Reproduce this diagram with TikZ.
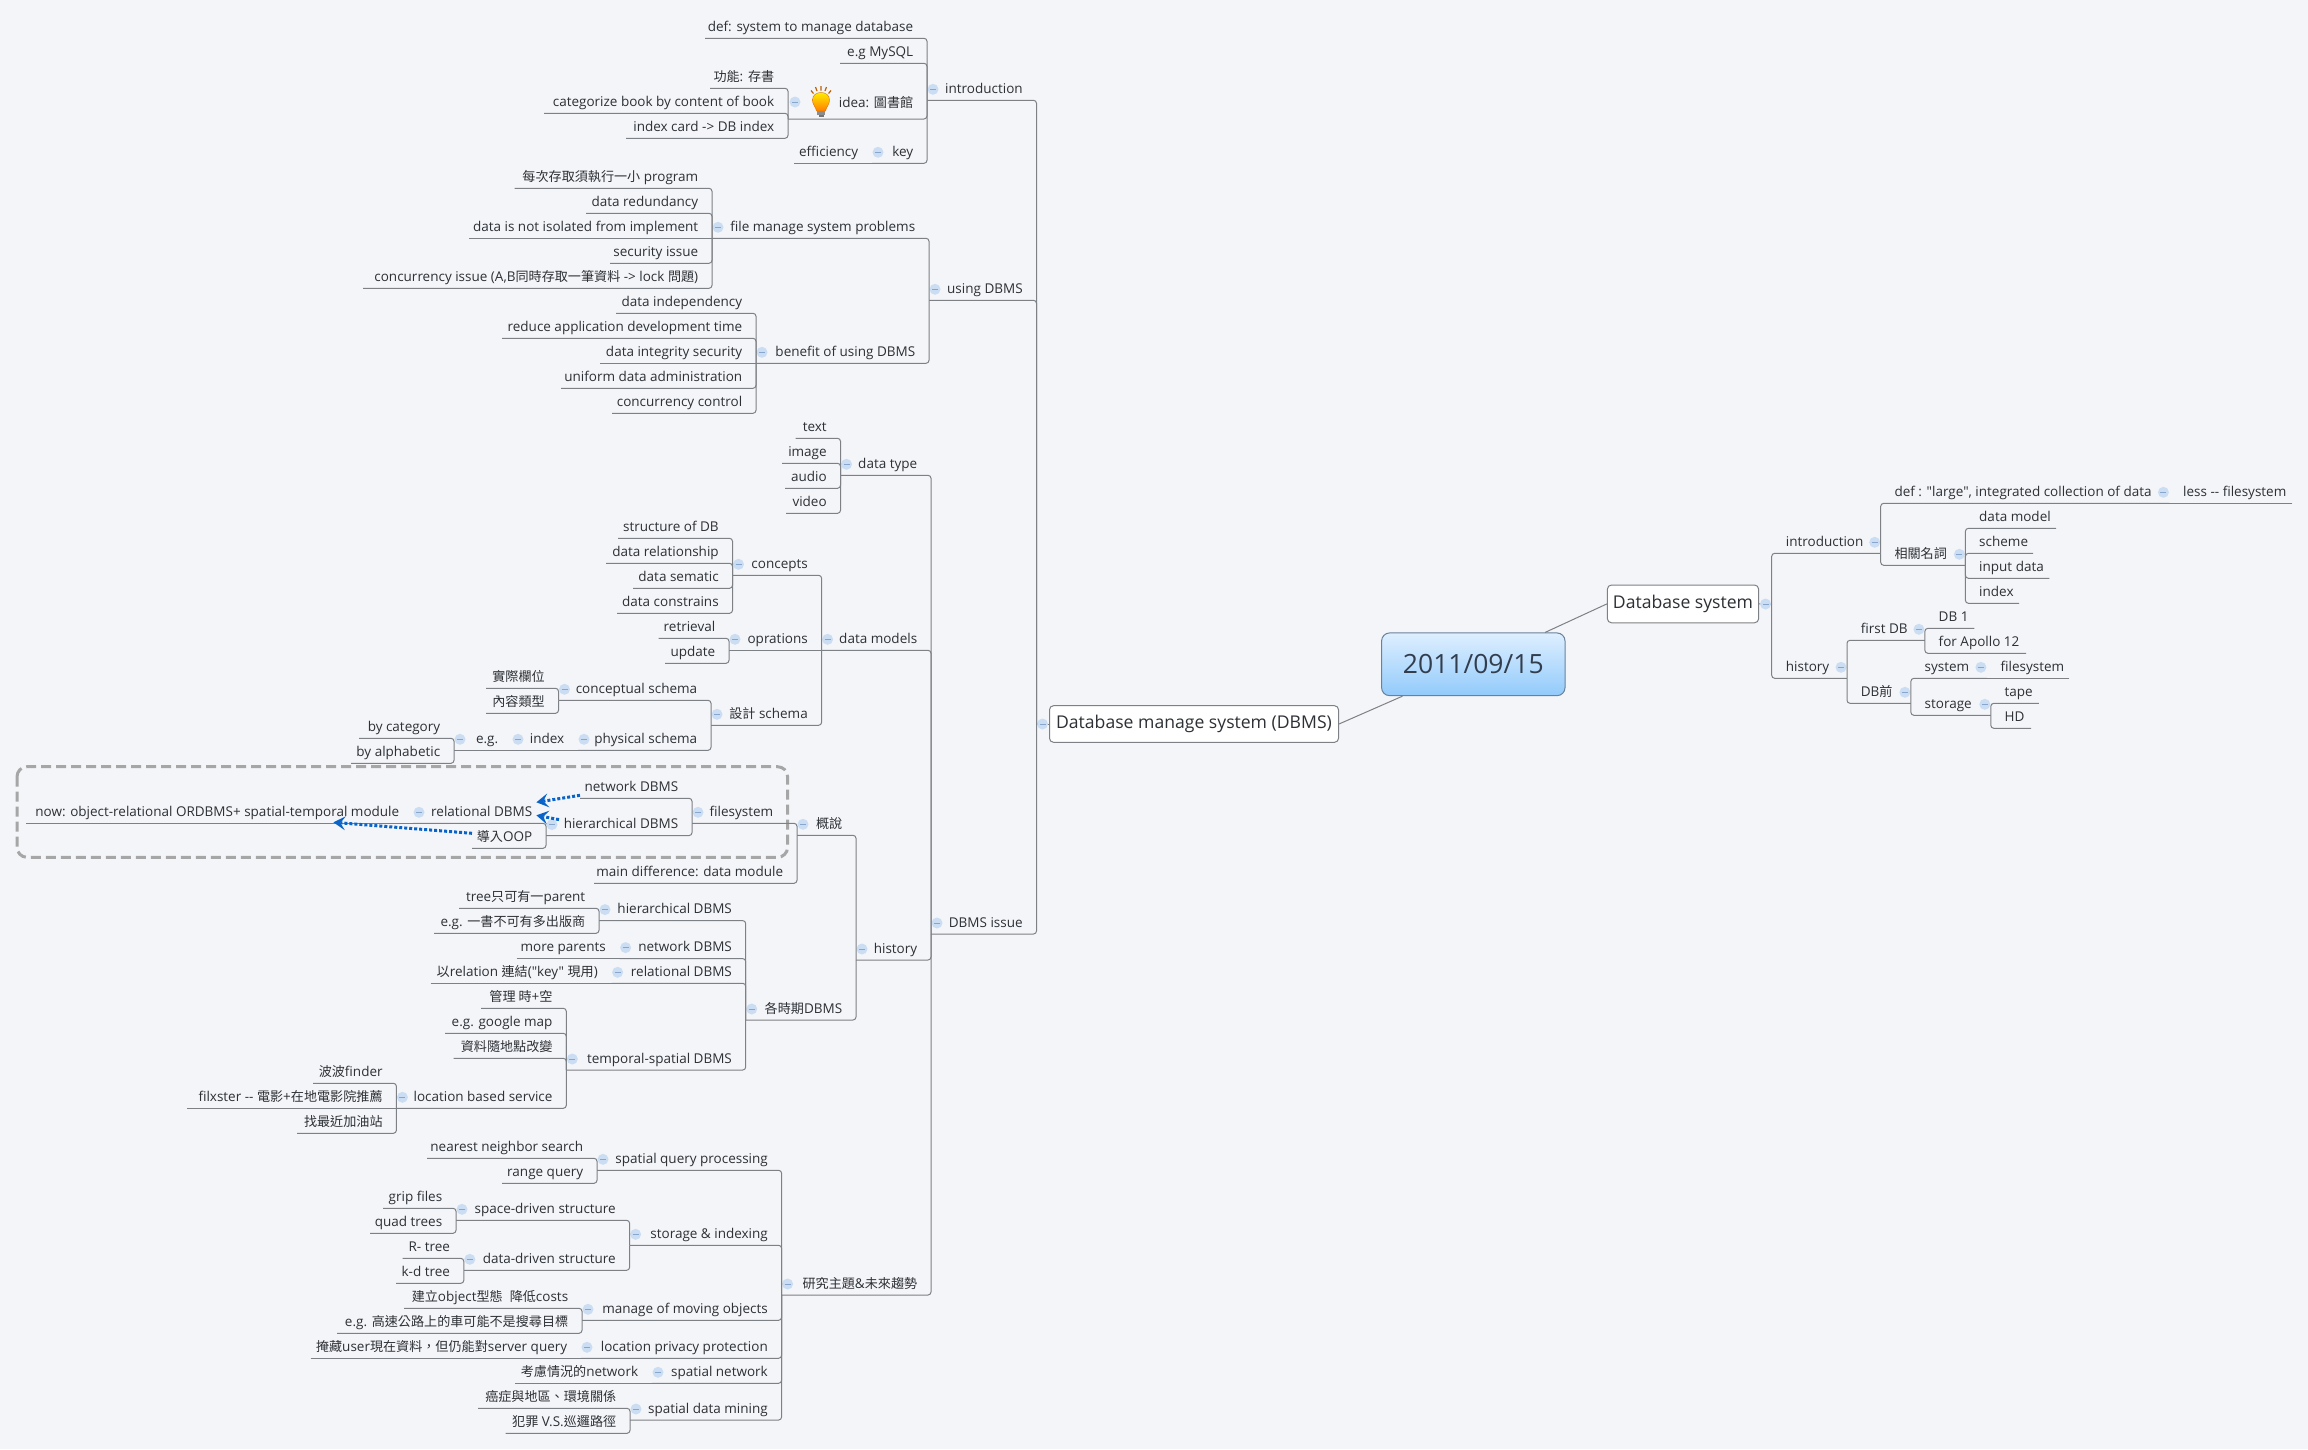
\documentclass[tikz,border=0pt]{standalone}
\usepackage{fontspec}
\newfontfamily\latinf{Open Sans}
\newfontfamily\cjk[Scale=0.97]{Noto Sans CJK TC}
\newcommand\C[1]{{\cjk #1}}
\usetikzlibrary{arrows.meta,calc}
\definecolor{bgc}{RGB}{243,245,249}
\definecolor{linec}{RGB}{125,128,132}
\definecolor{txtc}{RGB}{45,48,52}
\definecolor{iconc}{RGB}{203,221,242}
\definecolor{iconm}{RGB}{135,165,205}
\definecolor{relc}{RGB}{10,100,200}
\tikzset{
  topic/.style={inner sep=0pt,text height=12pt,text depth=6.5pt,anchor=south west,text=txtc,
    font=\latinf\fontsize{13.5}{15}\selectfont},
  topicidea/.style={topic,text depth=11pt},
  uline/.style={draw=linec,line width=1pt},
  conn/.style={draw=linec,line width=1pt,rounded corners=3pt},
  collapse/.style={circle,fill=iconc,inner sep=0pt,minimum size=11pt,
    path picture={\draw[iconm,line width=1pt] ([xshift=-3pt]path picture bounding box.center)--([xshift=3pt]path picture bounding box.center);}},
  rootbox/.style={draw=linec,line width=1pt,fill=white,rounded corners=4pt,inner sep=0pt,text=txtc,
    font=\latinf\fontsize{17.6}{20}\selectfont},
  relarrow/.style={draw=relc,line width=3pt,dotted,-{Stealth[length=12pt,width=14pt,inset=5pt,line width=0pt]}},
  dashbox/.style={draw=black!35,line width=3pt,dash pattern=on 10pt off 5pt,rounded corners=10pt},
  hub/.style={inner sep=0pt,minimum size=0pt,outer sep=0pt}
}
% left-growing topic: parent, name, xl, xr, y of underline, text
\newcommand\TLnode[5]{%
  \pgfmathsetlengthmacro\tw{#3-#2}%
  \node[topic] (#1) at (#2,#4) {\makebox[\tw][r]{#5\hspace*{14pt}}};}
\newcommand\TL[6]{\TLnode{#2}{#3}{#4}{#5}{#6}%
  \draw[conn] (#2.south west) -- (#2.south west -| #1.south west) -- (#1.south west);}
\newcommand\TLS[6]{\TLnode{#2}{#3}{#4}{#5}{#6}%
  \draw[uline] (#2.south west) -- (#2.south east) -- (#1.south west);}
\newcommand\TLi[6]{\TL{#1}{#2}{#3}{#4}{#5}{#6}%
  \node[collapse] (#2c) at ($(#2.south west)+(6,-11)$) {};}
\newcommand\TLSi[6]{\TLS{#1}{#2}{#3}{#4}{#5}{#6}%
  \node[collapse] (#2c) at ($(#2.south west)+(6,-11)$) {};}
% right-growing topic
\newcommand\TRnode[5]{%
  \pgfmathsetlengthmacro\tw{#3-#2}%
  \node[topic] (#1) at (#2,#4) {\makebox[\tw][l]{\hspace*{14pt}#5}};}
\newcommand\TR[6]{\TRnode{#2}{#3}{#4}{#5}{#6}%
  \draw[conn] (#2.south east) -- (#2.south east -| #1.south east) -- (#1.south east);}
\newcommand\TRS[6]{\TRnode{#2}{#3}{#4}{#5}{#6}%
  \draw[uline] (#2.south east) -- (#2.south west) -- (#1.south east);}
\newcommand\TRi[6]{\TR{#1}{#2}{#3}{#4}{#5}{#6}%
  \node[collapse] (#2c) at ($(#2.south east)+(-6,-11)$) {};}
\begin{document}
\begin{tikzpicture}[x=1pt,y=-1pt]
\fill[bgc] (0,0) rectangle (2308,1449);
\useasboundingbox (0,0) rectangle (2308,1449);
\draw[dashbox] (17,766.7) rectangle (787.6,857.3);
% central
\definecolor{ctop}{RGB}{222,239,255}
\definecolor{cbot}{RGB}{146,202,251}
\node[draw={rgb,255:red,105;green,130;blue,155},line width=1pt,rounded corners=8pt,top color=ctop,bottom color=cbot,
  minimum width=183.4pt,minimum height=62.7pt,inner sep=0pt,text={rgb,255:red,50;green,62;blue,78},
  font=\latinf\fontsize{26.5}{30}\selectfont] (center) at (1473.3,664.3) {2011/09/15};
\node[rootbox,minimum width=289pt,minimum height=36.6pt] (dbmsroot) at (1194,724) {Database manage system (DBMS)};
\node[rootbox,minimum width=151.2pt,minimum height=37.7pt] (dbroot) at (1683,603.9) {Database system};
\draw[uline] (center.south west)++(21.4,0) -- (dbmsroot.east);
\draw[uline] (center.north east)++(-20.5,0) -- (dbroot.west);
\node[hub] (hubL) at (1036.5,724) {};
\node[hub] (hubR) at (1771.7,604) {};
\draw[uline] (hubL) -- (dbmsroot.west);
\draw[uline] (hubR) -- (dbroot.east);
\node[collapse] (hubLc) at (1042.5,724) {};
\node[collapse] (hubRc) at (1765.5,604) {};
% --- left: introduction
\TLi{hubL}{intro}{927}{1036.5}{100.3}{introduction}
\TL{intro}{def}{705}{927}{38.3}{def: system to manage database}
\TL{intro}{mysql}{840}{927}{63.3}{e.g MySQL}
\pgfmathsetlengthmacro\tw{927-788}
\node[topicidea] (idea) at (788,119) {\makebox[\tw][r]{idea: \C{圖書館}\hspace*{14pt}}};
\draw[conn] (idea.south west) -- (idea.south west -| intro.south west) -- (intro.south west);
\node[collapse] (ideac) at (795,102) {};
\TLi{intro}{key}{872}{927}{163.3}{key}
\TLS{key}{eff}{794}{872}{163.3}{efficiency}
\TL{idea}{func}{710}{788}{88.3}{\C{功能}: \C{存書}}
\TL{idea}{categ}{544}{788}{113.3}{categorize book by content of book}
\TL{idea}{card}{626}{788}{138.3}{index card -> DB index}
% bulb
\begin{scope}
\draw[orange!75!black,line width=1.2pt] (811,90.5)--(813.5,93.5) (815.5,87)--(817,91) (821,86)--(821,90.5) (826.5,87)--(825,91) (831,90.5)--(828.5,93.5);
\shade[top color=yellow!85!orange,bottom color=orange,draw=orange!85!black,line width=.4pt]
  (816.5,111) .. controls (815.5,106) and (812.5,105) .. (812.5,100) .. controls (812.5,95) and (816.5,92.5) .. (821,92.5)
  .. controls (825.5,92.5) and (829.5,95) .. (829.5,100) .. controls (829.5,105) and (826.5,106) .. (825.5,111) -- cycle;
\fill[black!45] (817,111) rectangle (825,115);
\fill[black!55] (818.5,115) rectangle (823.5,116.5);
\end{scope}
% --- using DBMS
\TLi{hubL}{using}{929}{1036.5}{300.3}{using DBMS}
\TLi{using}{fms}{712}{929}{238.3}{file manage system problems}
\TL{fms}{fa}{514.5}{712}{188.3}{\C{每次存取須執行一小} program}
\TL{fms}{fb}{586}{712}{213.3}{data redundancy}
\TLS{fms}{fc}{469}{712}{238.3}{data is not isolated from implement}
\TL{fms}{fd}{610}{712}{263.3}{security issue}
\TL{fms}{fe}{363}{712}{288.3}{concurrency issue (A,B\C{同時存取一筆資料} -> lock \C{問題})}
\TLi{using}{ben}{756}{929}{363.3}{benefit of using DBMS}
\TL{ben}{ba}{616}{756}{313.3}{data independency}
\TL{ben}{bb}{502}{756}{338.3}{reduce application development time}
\TLS{ben}{bc}{600}{756}{363.3}{data integrity security}
\TL{ben}{bd}{561}{756}{388.3}{uniform data administration}
\TL{ben}{be}{612}{756}{413.3}{concurrency control}
% --- DBMS issue
\TLi{hubL}{issue}{931}{1036.5}{934}{DBMS issue}
\TLi{issue}{dtype}{840.5}{931}{475.3}{data type}
\TL{dtype}{da}{795.5}{840.5}{438.3}{text}
\TL{dtype}{db}{782}{840.5}{463.3}{image}
\TL{dtype}{dc}{785}{840.5}{488.3}{audio}
\TL{dtype}{dd}{786}{840.5}{513.3}{video}
\TLi{issue}{dmodels}{821.6}{931}{650.3}{data models}
\TLi{dmodels}{concepts}{732.5}{821.6}{575.3}{concepts}
\TL{concepts}{ca}{618}{732.5}{538.3}{structure of DB}
\TL{concepts}{cb}{606}{732.5}{563.3}{data relationship}
\TL{concepts}{cc}{633}{732.5}{588.3}{data sematic}
\TL{concepts}{cd}{617}{732.5}{613.3}{data constrains}
\TLSi{dmodels}{oprations}{729}{821.6}{650.3}{oprations}
\TL{oprations}{oa}{658.6}{729}{638.3}{retrieval}
\TL{oprations}{ob}{665}{729}{663.3}{update}
\TLi{dmodels}{design}{711}{821.6}{725.3}{\C{設計} schema}
\TLi{design}{conceptual}{558.5}{711}{700.3}{conceptual schema}
\TL{conceptual}{sa}{486}{558.5}{688.3}{\C{實際欄位}}
\TL{conceptual}{sb}{486}{558.5}{713.3}{\C{內容類型}}
\TLi{design}{physical}{578}{711}{750.3}{physical schema}
\TLSi{physical}{pindex}{512}{578}{750.3}{index}
\TLSi{pindex}{peg}{454}{512}{750.3}{e.g.}
\TL{peg}{pa}{359}{454}{738.3}{by category}
\TL{peg}{pb}{351}{454}{763.3}{by alphabetic}
% --- history
\TLi{issue}{history}{856}{931}{960}{history}
\TLi{history}{overview}{797}{856}{835.3}{\C{概說}}
\TLi{overview}{filesys}{692}{797}{823.3}{filesystem\hspace*{10pt}}
\TL{filesys}{netw}{580}{692}{798.3}{network DBMS}
\TLi{filesys}{hier}{546}{692}{835.6}{hierarchical DBMS}
\TLi{hier}{rel}{413}{546}{823.3}{relational DBMS}
\TL{hier}{oop}{472}{546}{848.3}{\C{導入}OOP}
\TLS{rel}{now}{26}{413}{823.3}{now: object-relational ORDBMS+ spatial-temporal module}
\TL{overview}{maindiff}{594}{797}{883.3}{main difference: data module}
\TLi{history}{period}{745.7}{856}{1020}{\C{各時期}DBMS}
\TLi{period}{hier2}{599}{745.7}{920.6}{hierarchical DBMS}
\TL{hier2}{ha}{459}{599}{908.3}{tree\C{只可有一}parent}
\TL{hier2}{hb}{434}{599}{933.3}{e.g. \C{一書不可有多出版商}}
\TLi{period}{net2}{619.6}{745.7}{958.6}{network DBMS}
\TLS{net2}{na}{516.7}{619.6}{958.6}{more parents}
\TLi{period}{rel2}{611.6}{745.7}{983.3}{relational DBMS}
\TLS{rel2}{ra}{430.5}{611.6}{983.3}{\C{以}relation \C{連結}("key" \C{現用})}
\TLi{period}{temporal}{566.3}{745.7}{1070}{temporal-spatial DBMS}
\TL{temporal}{ta}{481}{566.3}{1008.3}{\C{管理 時}+\C{空}}
\TL{temporal}{tb}{445}{566.3}{1033.3}{e.g. google map}
\TL{temporal}{tc}{453.5}{566.3}{1058.3}{\C{資料隨地點改變}}
\TLi{temporal}{lbs}{396.4}{566.3}{1108.3}{location based service}
\TL{lbs}{la}{313}{396.4}{1083.3}{\C{波波}finder}
\TLS{lbs}{lb}{187}{396.4}{1108.3}{filxster -{}- \C{電影}+\C{在地電影院推薦}}
\TL{lbs}{lc}{297}{396.4}{1133.3}{\C{找最近加油站}}
% --- research
\TLi{issue}{research}{781.6}{931}{1295}{\C{研究主題}\&\C{未來趨勢}}
\TLi{research}{sqp}{597}{781.6}{1170.3}{spatial query processing}
\TL{sqp}{qa}{427}{597}{1158.3}{nearest neighbor search}
\TL{sqp}{qb}{502}{597}{1183.3}{range query}
\TLi{research}{storeidx}{629.6}{781.6}{1245.3}{storage \& indexing}
\TLi{storeidx}{space}{456}{629.6}{1220.3}{space-driven structure}
\TL{space}{ga}{383}{456}{1208.3}{grip files}
\TL{space}{gb}{370}{456}{1233.3}{quad trees}
\TLi{storeidx}{datad}{463.8}{629.6}{1270.3}{data-driven structure}
\TL{datad}{ka}{402.5}{463.8}{1258.3}{R- tree}
\TL{datad}{kb}{396}{463.8}{1283.3}{k-d tree}
\TLi{research}{moving}{582}{781.6}{1320.3}{manage of moving objects}
\TL{moving}{ma}{404}{582}{1308.3}{\C{建立}object\C{型態} \ \C{降低}costs}
\TL{moving}{mb}{337}{582}{1333.3}{e.g. \C{高速公路上的車可能不是搜尋目標}}
\TLi{research}{privacy}{581}{781.6}{1358.3}{location privacy protection}
\TLS{privacy}{pra}{310.7}{581}{1358.3}{\C{掩藏}user\C{現在資料，但仍能對}server query}
\TLi{research}{snet}{652}{781.6}{1383.3}{spatial network}
\TLS{snet}{sna}{515}{652}{1383.3}{\C{考慮情況的}network}
\TLi{research}{mining}{630}{781.6}{1420}{spatial data mining}
\TL{mining}{mna}{478}{630}{1408.3}{\C{癌症與地區、環境關係}}
\TL{mining}{mnb}{505.6}{630}{1433.3}{\C{犯罪} V.S.\C{巡邏路徑}}
% relationship arrows
\draw[relarrow] ([yshift=3pt]netw.south west) -- ([xshift=-10pt,yshift=21pt]rel.south east);
\draw[relarrow] ([xshift=13pt,yshift=16pt]hier.south west) -- ([xshift=-10pt,yshift=8pt]rel.south east);
\draw[relarrow] ([yshift=15pt]oop.south west) -- ([xshift=-80pt,yshift=1pt]now.south east);
% --- right
\TRi{hubR}{rintro}{1771.7}{1880.3}{553.3}{introduction}
\TRi{rintro}{rdef}{1880.3}{2169}{503.3}{def : "large", integrated collection of data}
\TRS{rdef}{rless}{2169}{2292}{503.3}{less -{}- filesystem}
\TRi{rintro}{rterms}{1880.3}{1965}{565.3}{\C{相關名詞}}
\TR{rterms}{ta1}{1965}{2055.6}{528.3}{data model}
\TR{rterms}{ta2}{1965}{2032.7}{553.3}{scheme}
\TR{rterms}{ta3}{1965}{2049}{578.3}{input data}
\TR{rterms}{ta4}{1965}{2018.7}{603.3}{index}
\TRi{hubR}{rhist}{1771.7}{1846.6}{678.3}{history}
\TRi{rhist}{rfirst}{1846.6}{1924.5}{640.3}{first DB}
\TR{rfirst}{fa1}{1924.5}{1974}{628.3}{DB 1}
\TR{rfirst}{fa2}{1924.5}{2025.7}{653.3}{for Apollo 12}
\TRi{rhist}{rbefore}{1846.6}{1910.5}{703.3}{DB\C{前}}
\TRi{rbefore}{rsys}{1910.5}{1986.5}{678.3}{system}
\TRS{rsys}{rfs}{1986.5}{2069}{678.3}{filesystem}
\TRi{rbefore}{rstore}{1910.5}{1990.4}{715.3}{storage}
\TR{rstore}{st1}{1990.4}{2038.5}{703.3}{tape}
\TR{rstore}{st2}{1990.4}{2030.7}{728.3}{HD}
\end{tikzpicture}
\end{document}
